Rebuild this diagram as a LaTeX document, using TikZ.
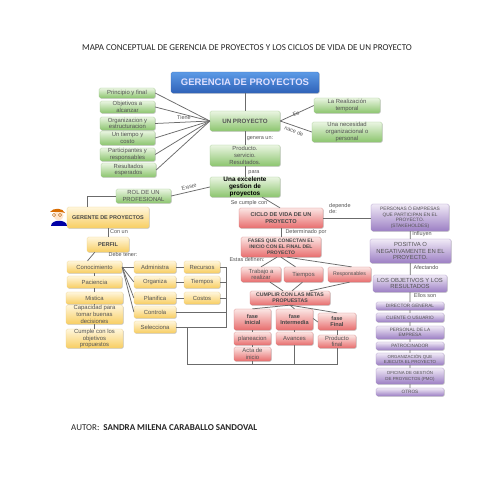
\documentclass[tikz,border=0pt]{standalone}
\usepackage{fontspec}
\setmainfont{Liberation Sans}
\newfontfamily\carl{Carlito}
\usetikzlibrary{shadows}
\definecolor{txt}{gray}{0.33}
\definecolor{lin}{gray}{0.42}
\definecolor{yb}{HTML}{F8CE62}\definecolor{yt}{HTML}{FFF6DC}\definecolor{yd}{HTML}{F0D080}
\definecolor{gb}{HTML}{8CC56E}\definecolor{gt}{HTML}{EAF5E2}\definecolor{gd}{HTML}{9CC888}
\definecolor{rb}{HTML}{E86E6E}\definecolor{rt}{HTML}{FBE6E4}\definecolor{rd}{HTML}{D87878}
\definecolor{pb}{HTML}{9C7FC4}\definecolor{pt}{HTML}{F0EAF6}\definecolor{pd}{HTML}{A48CC4}
\definecolor{bb}{HTML}{2F62B8}\definecolor{bt}{HTML}{5C9AE6}\definecolor{bd}{HTML}{3A6CB8}
\tikzset{
 boxbase/.style={rounded corners=1.5pt,inner sep=0pt,align=center,text=txt,line width=0.3pt,
   drop shadow={shadow xshift=0.7pt,shadow yshift=-0.7pt,opacity=0.25,fill=black},font=\fontsize{5.9}{6.7}\selectfont},
 byel/.style={boxbase,draw=yd,top color=yt,bottom color=yb},
 bgrn/.style={boxbase,draw=gd,top color=gt,bottom color=gb},
 bred/.style={boxbase,draw=rd,top color=rt,bottom color=rb},
 bpur/.style={boxbase,draw=pd,top color=pt,bottom color=pb},
 bblu/.style={boxbase,draw=bd,top color=bt,bottom color=bb,text=white!88!blue},
 conn/.style={draw=lin,line width=0.75pt},
 lab/.style={inner sep=0pt,text=txt,font=\fontsize{5.5}{6.4}\selectfont,align=left},
 bold/.style={font=\fontsize{5.6}{6.4}\selectfont\bfseries,text=black!72},
}
\newcommand{\bx}[7]{%
 \pgfmathsetmacro{\cxx}{(#2+#4)/2}\pgfmathsetmacro{\cyy}{(#3+#5)/2}%
 \pgfmathsetmacro{\wdd}{#4-#2}\pgfmathsetmacro{\htt}{#5-#3}%
 \node[#6,minimum width=\wdd pt,minimum height=\htt pt] (#1) at (\cxx,\cyy) {#7};}
\begin{document}
\begin{tikzpicture}[x=1pt,y=-1pt]
\useasboundingbox (0,0) rectangle (495,495);
\fill[white] (0,0) rectangle (495,495);
\node[inner sep=0pt,text=black!85] (titulo) at (247,48) {\carl\fontsize{9}{10}\selectfont MAPA CONCEPTUAL DE GERENCIA DE PROYECTOS Y LOS CICLOS DE VIDA DE UN PROYECTO};
\node[inner sep=0pt,anchor=west,text=black!85] (autor) at (71,428) {\carl\fontsize{9}{10}\selectfont AUTOR:\ \ \textbf{SANDRA MILENA CARABALLO SANDOVAL}};
% top
\bx{ger}{171}{72}{319}{93}{bblu,font=\fontsize{9.5}{11}\selectfont\bfseries}{GERENCIA DE PROYECTOS}
\bx{unp}{210}{111}{280}{131}{bgrn,font=\fontsize{6.2}{7}\selectfont\bfseries}{UN PROYECTO}
\bx{a1}{99}{88}{155}{98}{bgrn}{Principio y final}
\bx{a2}{100}{101}{155}{113}{bgrn}{Objetivos a\\alcanzar}
\bx{a3}{100}{117}{155}{130}{bgrn}{Organizacion y\\estructuracion}
\bx{a4}{100}{131}{155}{145}{bgrn}{Un tiempo y\\costo}
\bx{a5}{100}{148}{155}{161}{bgrn}{Participantes y\\responsables}
\bx{a6}{101}{163}{156}{177}{bgrn}{Resultados\\esperados}
\bx{real}{314}{98}{380}{113}{bgrn}{La Realización\\temporal}
\bx{nece}{312}{122}{382}{142}{bgrn}{Una necesidad\\organizacional  o\\personal}
\bx{prod}{210}{145}{280}{166}{bgrn}{Producto.\\servicio.\\Resultados.}
\bx{exce}{210}{177}{280}{197}{bgrn,font=\fontsize{6.4}{6.7}\selectfont\bfseries,text=black}{Una excelente\\gestion de\\proyectos}
\bx{rol}{116}{189}{171}{203}{bgrn}{ROL DE UN\\PROFESIONAL}
% left
\bx{gere}{67}{207}{149}{228}{byel,bold,font=\fontsize{5.5}{6.4}\selectfont\bfseries}{GERENTE DE PROYECTOS}
\bx{perf}{87}{237}{129}{252}{byel,bold}{PERFIL}
\bx{con}{67}{261}{122}{273}{byel}{Conocimiento}
\bx{pac}{67}{276}{122}{288}{byel}{Paciencia}
\bx{mis}{66}{292}{123}{304}{byel}{Mistica}
\bx{cap}{66}{305}{123}{324}{byel}{Capacidad para\\tomar buenas\\decisiones}
\bx{cum}{66}{329}{123}{348}{byel}{Cumple con los\\objetivos\\propuestos}
\bx{adm}{134}{261}{176}{273}{byel}{Administra}
\bx{org}{134}{276}{176}{288}{byel}{Organiza}
\bx{pla}{134}{292}{176}{304}{byel}{Planifica}
\bx{ctr}{134}{306}{176}{318}{byel}{Controla}
\bx{sel}{134}{321}{176}{333}{byel}{Selecciona}
\bx{rec}{184}{261}{220}{273}{byel}{Recursos}
\bx{tie}{184}{276}{220}{288}{byel}{Tiempos}
\bx{cos}{184}{292}{220}{304}{byel}{Costos}
% centre
\bx{cic}{239}{208}{323}{228}{bred,bold}{CICLO DE VIDA DE UN\\PROYECTO}
\bx{fas}{241}{237}{321}{257}{bred,bold,font=\fontsize{5}{6}\selectfont\bfseries}{FASES QUE CONECTAN EL\\INICIO CON EL FINAL DEL\\PROYECTO}
\bx{tra}{241}{267}{281}{282}{bred}{Trabajo a\\realizar}
\bx{tpo}{284}{267}{323}{282}{bred}{Tiempos}
\bx{res}{328}{267}{371}{282}{bred,font=\fontsize{5.2}{6}\selectfont}{Responsables}
\bx{cpl}{250}{291}{330}{305}{bred,bold,font=\fontsize{5.2}{6}\selectfont\bfseries}{CUMPLIR CON LAS METAS\\PROPUESTAS}
\bx{fi}{234}{309}{271}{330}{bred,bold}{fase\\inicial}
\bx{fm}{276}{309}{313}{330}{bred,bold}{fase\\Intermedia}
\bx{ff}{318}{313}{356}{330}{bred,bold}{fase\\Final}
\bx{pln}{234}{332}{271}{345}{bred}{planeacion}
\bx{ava}{276}{332}{313}{345}{bred}{Avances}
\bx{pfi}{318}{335}{356}{348}{bred}{Producto\\final}
\bx{act}{234}{347}{271}{361}{bred}{Acta de\\inicio}
% right
\bx{per}{371}{204}{449}{231}{bpur,font=\fontsize{4.8}{5.7}\selectfont}{PERSONAS Ó EMPRESAS\\QUE PARTICIPAN EN EL\\PROYECTO.\\(STAKEHOLDES)}
\bx{pos}{370}{239}{451}{263}{bpur}{POSITIVA  O\\NEGATIVAMENTE  EN EL\\PROYECTO.}
\bx{obj}{373}{275}{447}{292}{bpur}{LOS OBJETIVOS Y LOS\\RESULTADOS}
\bx{dir}{376}{302}{444}{310}{bpur,font=\fontsize{4.7}{5.5}\selectfont}{DIRECTOR GENERAL}
\bx{cli}{376}{313}{444}{322}{bpur,font=\fontsize{4.7}{5.5}\selectfont}{CLIENTE O USUARIO}
\bx{pem}{376}{326}{444}{339}{bpur,font=\fontsize{4.7}{5.5}\selectfont}{PERSONAL DE LA\\EMPRESA}
\bx{pat}{376}{342}{444}{350}{bpur,font=\fontsize{4.7}{5.5}\selectfont}{PATROCINADOR}
\bx{oeo}{376}{353}{444}{365}{bpur,font=\fontsize{4.4}{5.3}\selectfont}{ORGANIZACIÓN QUE\\EJECUTA EL PROYECTO}
\bx{ofi}{376}{368}{444}{384}{bpur,font=\fontsize{4.4}{5.3}\selectfont}{OFICINA DE GESTIÓN\\DE PROYECTOS (PMO)}
\bx{otr}{376}{388}{444}{396}{bpur,font=\fontsize{4.7}{5.5}\selectfont}{OTROS}
% avatar
\fill[blue!65!black] (50.5,226) .. controls (50.5,219) and (66.5,219) .. (66.5,226) -- cycle;
\fill[orange!20!white] (58.5,215.5) circle (5);
\fill[orange!85!black] (50,212) .. controls (53,207.5) and (63,207.5) .. (65,213) .. controls (60,211) and (55,212) .. (50,212) -- cycle;
\draw[orange!70!black,line width=0.4pt] (54,215) circle (1.6) (60,215) circle (1.6);
% connectors
\draw[conn] (ger) -- (unp) -- (prod) -- (exce);
\foreach \n in {a1,a2,a3,a4,a5,a6} \draw[conn] (\n.east) -- (unp.west);
\draw[conn] (unp.east) -- (real.west);
\draw[conn] (unp.east) -- (nece.west);
\draw[conn] (rol.east) -- (exce.west);
\coordinate (rg) at (87,207);
\draw[conn] (rol.west) -| (rg);
\draw[conn] (gere) -- (perf);
\draw[conn] ([xshift=8pt]perf.south west) -- ([xshift=-7pt]con.north);
\draw[conn] ([xshift=-0.5pt]con.south) -- ([xshift=-0.5pt]pac.north);
\draw[conn] (pac) -- (mis) -- (cap) -- (cum);
\foreach \n in {adm,org,pla,ctr} \draw[conn] (con.east) -- (\n.west);
\draw[conn] (adm) -- (rec);
\draw[conn] (org) -- (tie);
\draw[conn] (pla) -- (cos);
\coordinate (vr) at (226,267);
\coordinate (vb) at (226,327);
\draw[conn] (rec.east) -- (vr) -- (vb) -- (sel.east);
\draw[conn] (tie.east) -- (tie.east -| vr);
\draw[conn] (cos.east) -- (cos.east -| vr);
\draw[conn] (ctr.east) -- (ctr.east -| vr);
\coordinate (ba) at (187,327);
\coordinate (bb) at (187,364);
\draw[conn] (ba) -- (bb) -- (bb -| pfi.south) -- (pfi.south);
\draw[conn] (act.south) -- (act.south |- bb);
\draw[conn] (ava.south) -- (ava.south |- bb);
\draw[conn] ([xshift=-18pt]exce.south east) -- ([xshift=-1pt]cic.north);
\draw[conn] (cic) -- (fas);
\draw[conn] (cic.east) -- (per.west |- cic.east);
\draw[conn] ([xshift=-4pt]fas.south) -- (tra.north);
\draw[conn] (fas.south) -- ([xshift=-8pt]tpo.north);
\draw[conn] ([xshift=6pt]fas.south) -- ([xshift=2pt]res.north);
\draw[conn] ([xshift=9pt]tra.south) -- ([xshift=-7pt]cpl.north);
\draw[conn] ([xshift=-1pt]tpo.south) -- ([xshift=2pt]cpl.north);
\draw[conn] (res.south) -- ([xshift=20pt]cpl.north);
\draw[conn] (cpl.south) -- (fi.north);
\draw[conn] (cpl.south) -- (fm.north);
\draw[conn] (cpl.south) -- (ff.north);
\draw[conn] ([yshift=1pt]fm.east) -- ([yshift=-0.5pt]ff.west);
\draw[conn] (fi) -- (pln) -- (act);
\draw[conn] (fm) -- (ava);
\draw[conn] (ff) -- (pfi);
\draw[conn] (per) -- (pos) -- (obj) -- (dir) -- (cli) -- (pem) -- (pat) -- (oeo) -- (ofi) -- (otr);
% labels
\node[lab] (l1) at (184,118) {Tiene};
\node[lab,rotate=20] (l2) at (296,114) {Es};
\node[lab,rotate=-20] (l3) at (294,131) {nace de};
\node[lab] (l4) at (260,139) {genera un:};
\node[lab] (l5) at (254,173) {para};
\node[lab,rotate=14] (l6) at (189,187) {Existe};
\node[lab] (l7) at (249,203) {Se cumple con};
\node[lab,anchor=north west] (l8) at (329,203) {depende\\de:};
\node[lab] (l9) at (306,232) {Determinado por};
\node[lab] (l10) at (247,260) {Estas definen:};
\node[lab] (l11) at (119,231.5) {Con un};
\node[lab] (l12) at (123,255) {Debe tener:};
\node[lab] (l13) at (422,234) {Influyen};
\node[lab] (l14) at (426,268) {Afectando};
\node[lab] (l15) at (425,296) {Ellos son};
\end{tikzpicture}
\end{document}
